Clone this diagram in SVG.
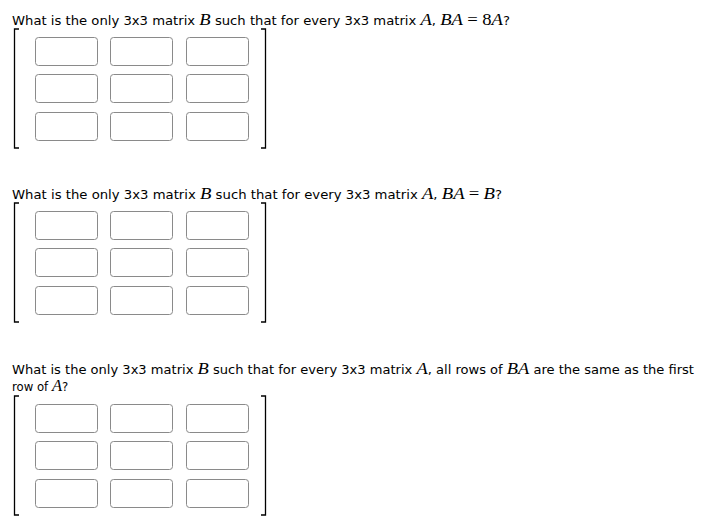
<svg xmlns="http://www.w3.org/2000/svg" width="707" height="528" viewBox="0 0 707 528">
<defs>
<style>
text{font-family:"DejaVu Sans Condensed","DejaVu Sans",sans-serif;font-size:13px;fill:#000}
.m{font-family:"Liberation Serif","Times New Roman",serif;font-style:italic;font-size:16.5px}
.n{font-family:"Liberation Serif","Times New Roman",serif;font-size:16.5px}
.b{fill:#fff;stroke:#8a8a8a;stroke-width:1;rx:3}
.k{fill:none;stroke:#000;stroke-width:1.3}
</style>
<g id="cells">
<rect class="b" x="35.5" y="37.5" width="62" height="28"/>
<rect class="b" x="110.5" y="37.5" width="62" height="28"/>
<rect class="b" x="186.5" y="37.5" width="62" height="28"/>
<rect class="b" x="35.5" y="74.5" width="62" height="28"/>
<rect class="b" x="110.5" y="74.5" width="62" height="28"/>
<rect class="b" x="186.5" y="74.5" width="62" height="28"/>
<rect class="b" x="35.5" y="112.5" width="62" height="28"/>
<rect class="b" x="110.5" y="112.5" width="62" height="28"/>
<rect class="b" x="186.5" y="112.5" width="62" height="28"/>
<path class="k" d="M19,29 H14.5 V148 H19 M261,29 H265.5 V148 H261"/>
</g>
</defs>
<g id="q1">
<text x="12" y="25" textLength="498" lengthAdjust="spacingAndGlyphs">What is the only 3x3 matrix <tspan class="m">B</tspan> such that for every 3x3 matrix <tspan class="m">A</tspan>, <tspan class="m">BA</tspan> <tspan class="n">= 8</tspan><tspan class="m">A</tspan>?</text>
<use href="#cells"/>
</g>
<g id="q2">
<text x="12" y="199" textLength="490" lengthAdjust="spacingAndGlyphs">What is the only 3x3 matrix <tspan class="m">B</tspan> such that for every 3x3 matrix <tspan class="m">A</tspan>, <tspan class="m">BA</tspan> <tspan class="n">=</tspan> <tspan class="m">B</tspan>?</text>
<use href="#cells" y="174"/>
</g>
<g id="q3">
<text x="12" y="374" textLength="682" lengthAdjust="spacingAndGlyphs">What is the only 3x3 matrix <tspan class="m">B</tspan> such that for every 3x3 matrix <tspan class="m">A</tspan>, all rows of <tspan class="m">BA</tspan> are the same as the first</text>
<text x="12" y="391">row of <tspan class="m">A</tspan>?</text>
<use href="#cells" y="367"/>
</g>
</svg>
